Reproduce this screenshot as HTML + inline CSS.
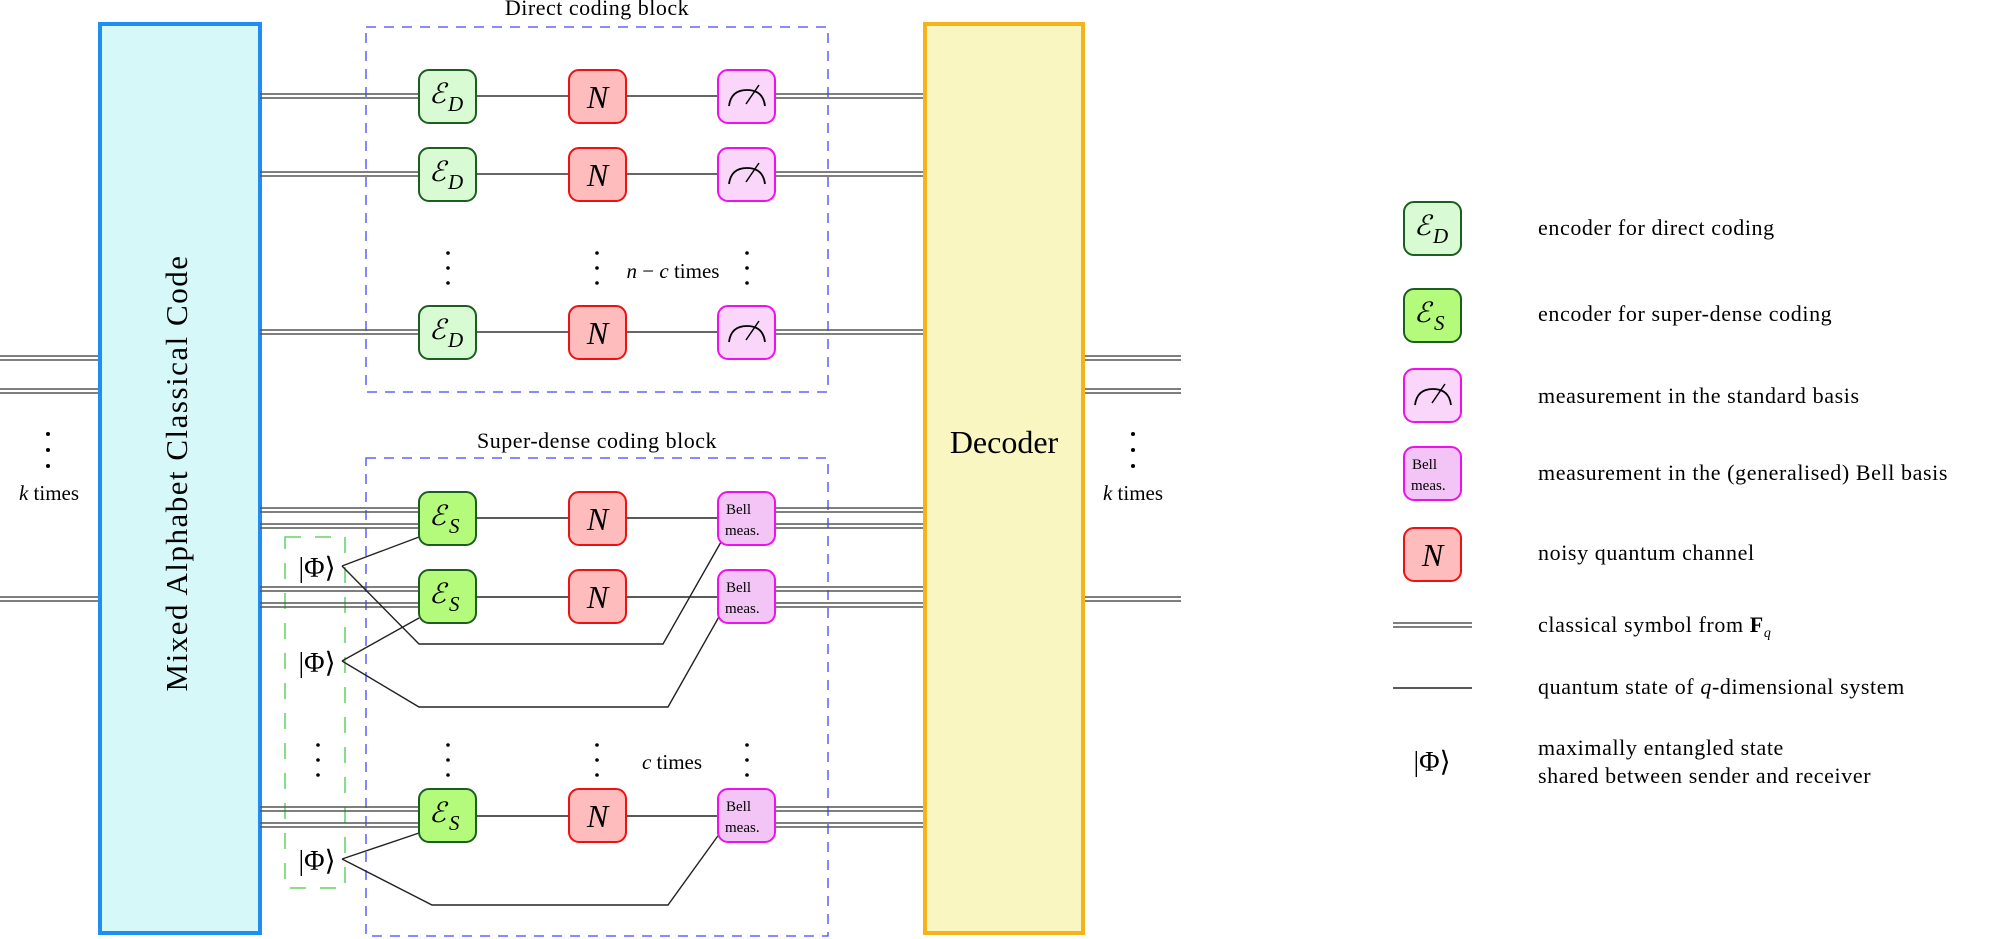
<!DOCTYPE html>
<html><head><meta charset="utf-8"><style>
html,body{margin:0;padding:0;background:#fff;}
svg{display:block;font-family:"Liberation Serif",serif;}
</style></head><body>
<svg width="2000" height="939" viewBox="0 0 2000 939" xmlns="http://www.w3.org/2000/svg">
<defs>
<g id="ED"><rect x="0" y="0" width="57" height="53" rx="10" fill="#d9fbd3" stroke="#1b5e20" stroke-width="2"/><text x="10" y="33" font-size="28" font-style="italic">ℰ</text><text x="29" y="41" font-size="21" font-style="italic">D</text></g>
<g id="ES"><rect x="0" y="0" width="57" height="53" rx="10" fill="#b4fb7c" stroke="#1b5e20" stroke-width="2"/><text x="10" y="33" font-size="28" font-style="italic">ℰ</text><text x="30" y="41" font-size="21" font-style="italic">S</text></g>
<g id="NN"><rect x="0" y="0" width="57" height="53" rx="10" fill="#ffbcbc" stroke="#ee1111" stroke-width="2"/><text x="28.5" y="38" font-size="32" font-style="italic" text-anchor="middle">N</text></g>
<g id="MM"><rect x="0" y="0" width="57" height="53" rx="10" fill="#fad6fa" stroke="#ee11ee" stroke-width="2"/><path d="M11 36 Q13 20 29 20 Q45 20 47 36" fill="none" stroke="#000" stroke-width="1.8"/><line x1="28" y1="34" x2="41" y2="15" stroke="#000" stroke-width="1.5"/></g>
<g id="BB"><rect x="0" y="0" width="57" height="53" rx="10" fill="#f3c4f6" stroke="#ee11ee" stroke-width="2"/><text x="8" y="22" font-size="15">Bell</text><text x="7" y="43" font-size="15">meas.</text></g>
</defs>

<g stroke="#555" stroke-width="1.5" fill="none">
<path d="M0 356H99M0 360H99M0 389H99M0 393H99M0 597H99M0 601H99"/>
<path d="M1083 356H1181M1083 360H1181M1083 389H1181M1083 393H1181M1083 597H1181M1083 601H1181"/>
</g>

<rect x="100" y="24" width="160" height="909" fill="#d6f8f9" stroke="#1e8ef5" stroke-width="4"/>
<text transform="translate(180,473) rotate(-90)" font-size="31" letter-spacing="1.5" text-anchor="middle" dominant-baseline="middle">Mixed Alphabet Classical Code</text>

<rect x="925" y="24" width="158" height="909" fill="#f9f6c2" stroke="#f5b21b" stroke-width="4"/>
<text x="1004" y="453" font-size="32" text-anchor="middle">Decoder</text>

<g fill="#000"><circle cx="48" cy="434" r="2"/><circle cx="48" cy="450" r="2"/><circle cx="48" cy="466" r="2"/>
<circle cx="1133" cy="434" r="2"/><circle cx="1133" cy="450" r="2"/><circle cx="1133" cy="466" r="2"/></g>
<text x="49" y="500" font-size="21" text-anchor="middle"><tspan font-style="italic">k</tspan> times</text>
<text x="1133" y="500" font-size="21" text-anchor="middle"><tspan font-style="italic">k</tspan> times</text>

<text x="597" y="15" font-size="22" letter-spacing="0.5" text-anchor="middle">Direct coding block</text>
<rect x="366" y="27" width="462" height="365" fill="none" stroke="#4444ff" stroke-width="1.3" stroke-dasharray="10,8"/>
<g stroke="#555" stroke-width="1.5" fill="none">
<path d="M260 94H419M260 98H419M775 94H923M775 98H923"/>
<path d="M260 172H419M260 176H419M775 172H923M775 176H923"/>
<path d="M260 330H419M260 334H419M775 330H923M775 334H923"/>
<path d="M476 96H718M476 174H718M476 332H718" stroke="#333"/>
</g>
<use href="#ED" x="419" y="70"/><use href="#NN" x="569" y="70"/><use href="#MM" x="718" y="70"/>
<use href="#ED" x="419" y="148"/><use href="#NN" x="569" y="148"/><use href="#MM" x="718" y="148"/>
<use href="#ED" x="419" y="306"/><use href="#NN" x="569" y="306"/><use href="#MM" x="718" y="306"/>
<g fill="#000">
<circle cx="448" cy="253" r="1.8"/><circle cx="448" cy="268" r="1.8"/><circle cx="448" cy="283" r="1.8"/>
<circle cx="597" cy="253" r="1.8"/><circle cx="597" cy="268" r="1.8"/><circle cx="597" cy="283" r="1.8"/>
<circle cx="747" cy="253" r="1.8"/><circle cx="747" cy="268" r="1.8"/><circle cx="747" cy="283" r="1.8"/>
</g>
<text x="673" y="278" font-size="21" text-anchor="middle"><tspan font-style="italic">n</tspan> − <tspan font-style="italic">c</tspan> times</text>

<text x="597" y="448" font-size="22" letter-spacing="0.5" text-anchor="middle">Super-dense coding block</text>
<rect x="366" y="458" width="462" height="478" fill="none" stroke="#4444ff" stroke-width="1.3" stroke-dasharray="10,8"/>
<rect x="285" y="537" width="60" height="351" fill="none" stroke="#44cc44" stroke-width="1.3" stroke-dasharray="16,14"/>
<g stroke="#555" stroke-width="1.5" fill="none">
<path d="M260 508H419M260 512H419M260 524H419M260 528H419M775 508H923M775 512H923M775 524H923M775 528H923"/>
<path d="M260 587H419M260 591H419M260 603H419M260 607H419M775 587H923M775 591H923M775 603H923M775 607H923"/>
<path d="M260 807H419M260 811H419M260 823H419M260 827H419M775 807H923M775 811H923M775 823H923M775 827H923"/>
</g>
<g stroke="#222" stroke-width="1.4" fill="none">
<path d="M476 518H718M476 597H718M476 816H718"/>
<path d="M342 566L419 537M342 566L419 644H663L721 542"/>
<path d="M342 661L419 618M342 661L419 707H668L720 615"/>
<path d="M342 859L419 833M342 859L432 905H668L720 833"/>
</g>
<use href="#ES" x="419" y="492"/><use href="#NN" x="569" y="492"/><use href="#BB" x="718" y="492"/>
<use href="#ES" x="419" y="570"/><use href="#NN" x="569" y="570"/><use href="#BB" x="718" y="570"/>
<use href="#ES" x="419" y="789"/><use href="#NN" x="569" y="789"/><use href="#BB" x="718" y="789"/>
<g font-size="28" text-anchor="middle">
<text x="317" y="577">|Φ⟩</text><text x="317" y="672">|Φ⟩</text><text x="317" y="870">|Φ⟩</text>
</g>
<g fill="#000">
<circle cx="318" cy="745" r="1.8"/><circle cx="318" cy="760" r="1.8"/><circle cx="318" cy="775" r="1.8"/>
<circle cx="448" cy="745" r="1.8"/><circle cx="448" cy="760" r="1.8"/><circle cx="448" cy="775" r="1.8"/>
<circle cx="597" cy="745" r="1.8"/><circle cx="597" cy="760" r="1.8"/><circle cx="597" cy="775" r="1.8"/>
<circle cx="747" cy="745" r="1.8"/><circle cx="747" cy="760" r="1.8"/><circle cx="747" cy="775" r="1.8"/>
</g>
<text x="672" y="769" font-size="21" text-anchor="middle"><tspan font-style="italic">c</tspan> times</text>

<use href="#ED" x="1404" y="202"/>
<use href="#ES" x="1404" y="289"/>
<use href="#MM" x="1404" y="369"/>
<use href="#BB" x="1404" y="447"/>
<use href="#NN" x="1404" y="528"/>
<path d="M1393 623H1472M1393 627H1472" stroke="#555" stroke-width="1.5"/>
<path d="M1393 688H1472" stroke="#222" stroke-width="1.4"/>
<text x="1432" y="771" font-size="28" text-anchor="middle">|Φ⟩</text>
<g font-size="22" letter-spacing="0.6">
<text x="1538" y="235">encoder for direct coding</text>
<text x="1538" y="321">encoder for super-dense coding</text>
<text x="1538" y="403">measurement in the standard basis</text>
<text x="1538" y="480">measurement in the (generalised) Bell basis</text>
<text x="1538" y="560">noisy quantum channel</text>
<text x="1538" y="632">classical symbol from <tspan font-weight="bold">F</tspan><tspan font-size="14" font-style="italic" dy="5">q</tspan></text>
<text x="1538" y="694">quantum state of <tspan font-style="italic">q</tspan>-dimensional system</text>
<text x="1538" y="755">maximally entangled state</text>
<text x="1538" y="783">shared between sender and receiver</text>
</g>
</svg>
</body></html>
